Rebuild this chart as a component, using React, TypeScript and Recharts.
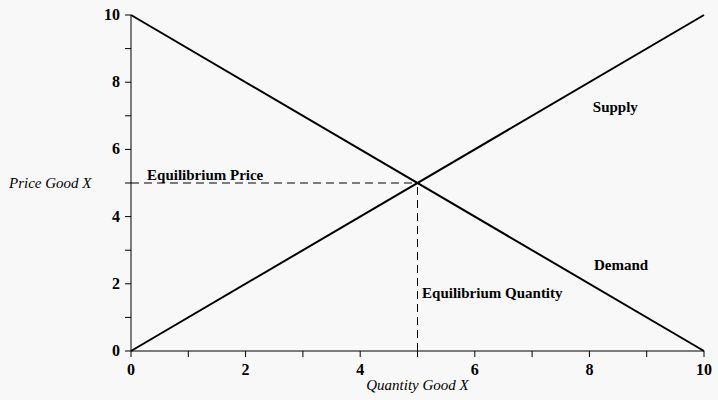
import { LineChart, Line, XAxis, YAxis, ReferenceDot, Label } from 'recharts';

const quantity = [0, 10];
const demand = [10, 0];
const supply = [0, 10];
const eqPriceX = [0, 5];
const eqPriceY = [5, 5];
const eqQtyX = [5, 5];
const eqQtyY = [0, 5];
const ticks = [0, 1, 2, 3, 4, 5, 6, 7, 8, 9, 10];

const notes = [
  { x: 8.06, y: 7.26, text: 'Supply' },
  { x: 8.08, y: 2.56, text: 'Demand' },
  { x: 0.28, y: 5.24, text: 'Equilibrium Price' },
  { x: 5.08, y: 1.73, text: 'Equilibrium Quantity' },
];

const font = "'Liberation Serif', serif";
const bold = { fontFamily: font, fontWeight: 'bold' as const, fontSize: 15 };
const tickFont = { fontFamily: font, fontWeight: 'bold' as const, fontSize: 16 };
const ital = { fontFamily: font, fontStyle: 'italic' as const, fontSize: 15 };

const XTick = (props: any) => {
  const { x, y, payload } = props;
  const major = payload.value % 2 === 0;
  return (
    <g>
      <line x1={x} y1={y} x2={x} y2={y + 6} stroke="#000" />
      {major && (
        <text x={x} y={y + 24} textAnchor="middle" style={tickFont} fill="#000">
          {payload.value}
        </text>
      )}
    </g>
  );
};

const YTick = (props: any) => {
  const { x, y, payload } = props;
  const major = payload.value % 2 === 0;
  return (
    <g>
      <line x1={x - 6} y1={y} x2={x} y2={y} stroke="#000" />
      {major && (
        <text x={x - 11} y={y + 5} textAnchor="end" style={tickFont} fill="#000">
          {payload.value}
        </text>
      )}
    </g>
  );
};

const toRows = (xs: number[], ys: number[]) => xs.map((x, i) => ({ x, y: ys[i] }));

const NoteLabel = (text: string) => (props: any) => {
  const { viewBox } = props;
  return (
    <text x={viewBox.x} y={viewBox.y + 5} style={bold} fill="#000">
      {text}
    </text>
  );
};

export default function App() {
  return (
    <div style={{ position: 'absolute', left: 0, top: 0, width: 718, height: 400, background: '#f8f8f8' }}>
      <LineChart width={718} height={400} margin={{ top: 15, right: 14, bottom: 19, left: 31 }}>
        <XAxis
          type="number"
          dataKey="x"
          domain={[0, 10]}
          ticks={ticks}
          interval={0}
          tickLine={false}
          tickSize={0}
          tickMargin={0}
          tick={<XTick />}
          axisLine={{ stroke: '#000' }}
          height={30}
          allowDuplicatedCategory={false}
        >
          <Label
            content={(p: any) => (
              <text x={p.viewBox.x + p.viewBox.width / 2} y={390} textAnchor="middle" style={ital} fill="#000">
                Quantity Good X
              </text>
            )}
          />
        </XAxis>
        <YAxis
          type="number"
          dataKey="y"
          domain={[0, 10]}
          ticks={ticks}
          interval={0}
          tickLine={false}
          tickSize={0}
          tickMargin={0}
          tick={<YTick />}
          axisLine={{ stroke: '#000' }}
          width={100}
        >
          <Label
            content={() => (
              <text x={9} y={188} style={ital} fill="#000">
                Price Good X
              </text>
            )}
          />
        </YAxis>
        <Line data={toRows(quantity, demand)} dataKey="y" stroke="#000" strokeWidth={2} dot={false} isAnimationActive={false} />
        <Line data={toRows(quantity, supply)} dataKey="y" stroke="#000" strokeWidth={2} dot={false} isAnimationActive={false} />
        <Line data={toRows(eqPriceX, eqPriceY)} dataKey="y" stroke="#000" strokeWidth={1} strokeDasharray="8 5" dot={false} isAnimationActive={false} />
        <Line data={toRows(eqQtyX, eqQtyY)} dataKey="y" stroke="#000" strokeWidth={1} strokeDasharray="8 5" dot={false} isAnimationActive={false} />
        {notes.map((n) => (
          <ReferenceDot key={n.text} x={n.x} y={n.y} r={0} fill="none" stroke="none" label={NoteLabel(n.text)} />
        ))}
      </LineChart>
    </div>
  );
}
